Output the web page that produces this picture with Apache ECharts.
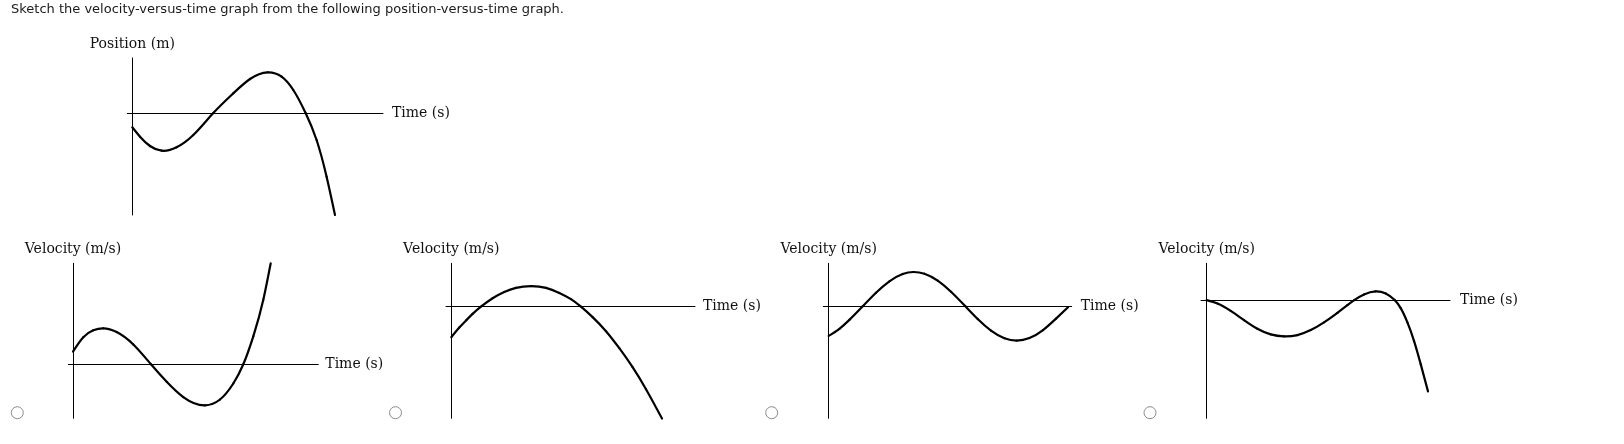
<!DOCTYPE html>
<html>
<head>
<meta charset="utf-8">
<script src="https://cdn.jsdelivr.net/npm/echarts@6/dist/echarts.min.js"></script>
<style>
  html, body { margin: 0; padding: 0; background: #fff; }
  #chart { width: 1624px; height: 444px; }
</style>
</head>
<body>
<div id="chart"></div>
<script>
// ---------- text ----------
const titleText = 'Sketch the velocity-versus-time graph from the following position-versus-time graph.';
const positionLabel = 'Position (m)';
const velocityLabel = 'Velocity (m/s)';
const timeLabel = 'Time (s)';

// ---------- curve data: [time, value] in arbitrary units ----------
const positionCurve = [
  [0, -1.43], [0.77, -2.37], [1.77, -3.3], [2.93, -3.77], [4.43, -3.43], [6.1, -2.2],
  [8.1, 0], [10.1, 1.97], [11.77, 3.4], [13.53, 4.07], [14.93, 3.63], [16.1, 2.3],
  [17.33, 0], [18.43, -2.7], [19.43, -6.37], [20.27, -10.2]
];
const velocityA = [
  [0, 1.27], [1.03, 2.7], [2.03, 3.4], [3.03, 3.6], [4.37, 3.22], [6.03, 1.98],
  [7.8, 0], [9.37, -1.75], [11.03, -3.28], [13.2, -4.1], [14.7, -3.52], [16.03, -1.92],
  [17.03, 0], [18.03, 2.8], [19.03, 6.45], [19.77, 10.1]
];
const velocityB = [
  [0, -3.1], [0.8, -2.13], [1.47, -1.43], [2.13, -0.77], [3.03, 0], [4.13, 0.8],
  [5.3, 1.43], [6.47, 1.83], [7.97, 2.0], [9.47, 1.83], [10.8, 1.33], [11.97, 0.7],
  [12.9, 0], [14.13, -1.09], [15.47, -2.5], [16.8, -4.2], [18.13, -6.1], [19.47, -8.3],
  [21.07, -11.23]
];
const velocityC = [
  [0, -2.96], [1.07, -2.25], [2.07, -1.36], [3.4, 0], [4.73, 1.36], [6.07, 2.5],
  [7.4, 3.23], [8.47, 3.43], [9.57, 3.26], [10.9, 2.57], [12.23, 1.46], [13.67, 0],
  [14.9, -1.27], [16.23, -2.43], [17.57, -3.19], [18.8, -3.43], [20.07, -3.18],
  [21.4, -2.4], [22.73, -1.23], [23.93, -0.1]
];
const velocityD = [
  [0, 0], [1.07, -0.33], [2.4, -1.07], [3.73, -2.0], [5.07, -2.87], [6.4, -3.43],
  [7.73, -3.63], [9.07, -3.5], [10.4, -3.0], [11.73, -2.23], [13.07, -1.27], [14.07, -0.5],
  [14.75, 0], [15.73, 0.57], [16.9, 0.87], [17.9, 0.67], [18.8, 0], [19.4, -0.8],
  [20.07, -2.23], [20.73, -4.07], [21.4, -6.4], [22.13, -9.13]
];

// ---------- layout (pixels) ----------
const PX_PER_UNIT = 10;
const panels = [
  { data: positionCurve, yName: positionLabel, ox: 132.3, oy: 113,   left: 127.3, right: 383,    top: 58,    bottom: 215,   xGap: 9 },
  { data: velocityA,     yName: velocityLabel, ox: 73,    oy: 364.3, left: 68.3,  right: 318.3,  top: 263.3, bottom: 418.3, xGap: 7 },
  { data: velocityB,     yName: velocityLabel, ox: 451.3, oy: 306.2, left: 446,   right: 695,    top: 263.3, bottom: 418.3, xGap: 8 },
  { data: velocityC,     yName: velocityLabel, ox: 828.7, oy: 306.3, left: 823.3, right: 1071.7, top: 263.3, bottom: 418.3, xGap: 9 },
  { data: velocityD,     yName: velocityLabel, ox: 1206.7,oy: 300.1, left: 1201,  right: 1450,   top: 263.3, bottom: 418.3, xGap: 10 }
];
const radioCenters = [[17.3, 412.7], [395.5, 412.7], [771.7, 412.7], [1150, 412.7]];

const serif = 'DejaVu Serif';
const yNameStyle = { fontFamily: serif, fontSize: 14, color: '#111' };
const xNameStyle = { fontFamily: serif, fontSize: 14, color: '#111', padding: [4, 0, 0, 0] };
const axisLineStyle = { color: '#000', width: 1 };

// Smooth curve through the data points: natural cubic spline in x, drawn as
// cubic Bezier segments; every point is placed by the cartesian axes (api.coord).
function curveRenderer(points) {
  return function (params, api) {
    const pts = points.map(d => api.coord(d));
    const n = pts.length;
    const h = [], M = new Array(n).fill(0);
    for (let i = 0; i < n - 1; i++) h.push(pts[i + 1][0] - pts[i][0]);
    // tridiagonal solve for second derivatives (natural ends)
    const a = [], b = [], c = [], r = [];
    for (let i = 1; i < n - 1; i++) {
      a.push(h[i - 1]); b.push(2 * (h[i - 1] + h[i])); c.push(h[i]);
      r.push(6 * ((pts[i + 1][1] - pts[i][1]) / h[i] - (pts[i][1] - pts[i - 1][1]) / h[i - 1]));
    }
    const m = r.length;
    for (let i = 1; i < m; i++) {
      const w = a[i] / b[i - 1];
      b[i] -= w * c[i - 1]; r[i] -= w * r[i - 1];
    }
    const sol = new Array(m);
    for (let i = m - 1; i >= 0; i--) sol[i] = (r[i] - (i < m - 1 ? c[i] * sol[i + 1] : 0)) / b[i];
    for (let i = 0; i < m; i++) M[i + 1] = sol[i];
    const slope = [];
    for (let i = 0; i < n - 1; i++) slope.push((pts[i + 1][1] - pts[i][1]) / h[i] - h[i] * (2 * M[i] + M[i + 1]) / 6);
    slope.push((pts[n - 1][1] - pts[n - 2][1]) / h[n - 2] + h[n - 2] * (M[n - 2] + 2 * M[n - 1]) / 6);
    const children = [];
    for (let i = 0; i < n - 1; i++) {
      const p1 = pts[i], p2 = pts[i + 1], d = h[i] / 3;
      children.push({
        type: 'bezierCurve',
        shape: {
          x1: p1[0], y1: p1[1], x2: p2[0], y2: p2[1],
          cpx1: p1[0] + d, cpy1: p1[1] + slope[i] * d,
          cpx2: p2[0] - d, cpy2: p2[1] - slope[i + 1] * d
        },
        style: { fill: null, stroke: '#000', lineWidth: 2.2, lineCap: 'round', lineJoin: 'round' }
      });
    }
    return { type: 'group', children: children };
  };
}

const grids = [], xAxes = [], yAxes = [], series = [];
panels.forEach((p, i) => {
  grids.push({ left: p.left, top: p.top, width: p.right - p.left, height: p.bottom - p.top, containLabel: false });
  xAxes.push({
    type: 'value', gridIndex: i,
    min: (p.left - p.ox) / PX_PER_UNIT, max: (p.right - p.ox) / PX_PER_UNIT,
    axisLine: { show: true, onZero: true, lineStyle: axisLineStyle },
    axisTick: { show: false }, axisLabel: { show: false }, splitLine: { show: false },
    name: timeLabel, nameLocation: 'end', nameGap: p.xGap, nameTextStyle: xNameStyle,
    nameMoveOverlap: false
  });
  yAxes.push({
    type: 'value', gridIndex: i,
    min: (p.oy - p.bottom) / PX_PER_UNIT, max: (p.oy - p.top) / PX_PER_UNIT,
    axisLine: { show: true, onZero: true, lineStyle: axisLineStyle },
    axisTick: { show: false }, axisLabel: { show: false }, splitLine: { show: false },
    name: p.yName, nameLocation: 'end', nameGap: 7, nameTextStyle: yNameStyle,
    nameMoveOverlap: false
  });
  series.push({
    type: 'custom', coordinateSystem: 'cartesian2d', xAxisIndex: i, yAxisIndex: i,
    data: [p.data[0]], silent: true, animation: false,
    renderItem: curveRenderer(p.data)
  });
});

const chart = echarts.init(document.getElementById('chart'), null, { renderer: 'canvas' });
chart.setOption({
  animation: false,
  backgroundColor: '#fff',
  title: {
    text: titleText, left: 11, top: 3, padding: 0,
    textStyle: { fontFamily: 'DejaVu Sans', fontSize: 13, fontWeight: 'normal', color: '#1a1a1a' }
  },
  grid: grids, xAxis: xAxes, yAxis: yAxes, series: series,
  graphic: radioCenters.map(c => ({
    type: 'circle', silent: true,
    shape: { cx: c[0], cy: c[1], r: 6 },
    style: { fill: '#fff', stroke: '#8c8c8c', lineWidth: 1 }
  }))
});
</script>
</body>
</html>
